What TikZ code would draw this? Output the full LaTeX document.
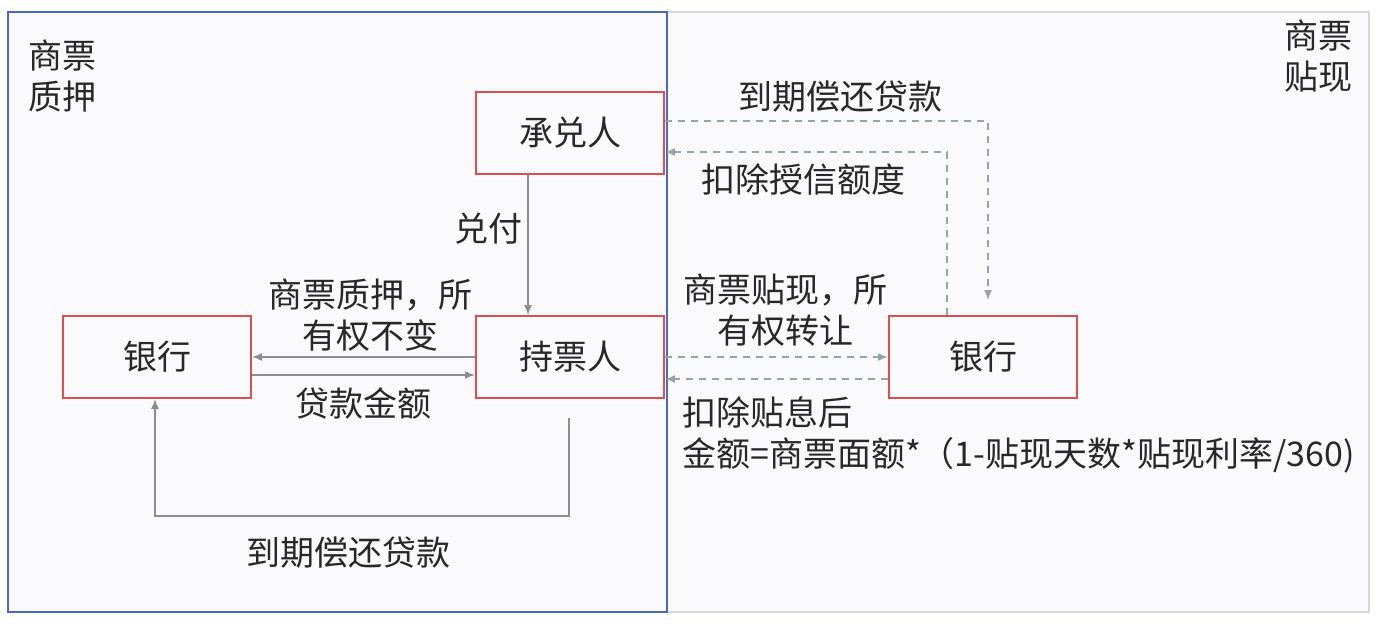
\documentclass[tikz,border=0pt]{standalone}
\usepackage{fontspec}
\setmainfont{Noto Sans CJK SC}
\usetikzlibrary{arrows.meta}
\definecolor{boxred}{RGB}{222,78,78}
\definecolor{frameblue}{RGB}{72,108,188}
\definecolor{panelgray}{RGB}{215,215,218}
\definecolor{arrgray}{RGB}{140,140,145}
\definecolor{dashgray}{RGB}{150,162,172}
\definecolor{txt}{RGB}{40,40,40}
\tikzset{
  party/.style={draw=boxred, line width=2pt, minimum width=188pt, minimum height=82pt, inner sep=0pt, text=txt, font=\fontsize{34}{40}\selectfont},
  lbl/.style={text=txt, font=\fontsize{34}{41}\selectfont, inner sep=0pt, align=center},
  solidarr/.style={draw=arrgray, line width=1.5pt, -{Latex[length=10pt,width=8pt]}},
  dasharr/.style={draw=dashgray, line width=1.5pt, dash pattern=on 7pt off 6pt, -{Latex[length=10pt,width=8pt]}},
}
\begin{document}
\begin{tikzpicture}[x=1pt,y=-1pt]
\useasboundingbox (0,0) rectangle (1386,624);
\fill[white] (0,0) rectangle (1386,624);
% panels
\draw[panelgray, line width=1.2pt, fill={rgb,255:red,250;green,250;blue,252}] (667,12) rectangle (1369,612);
\draw[frameblue, line width=2pt, fill={rgb,255:red,250;green,250;blue,252}] (8,12) rectangle (667,612);
% nodes
\node[party] (acc) at (570,132.5) {承兑人};
\node[party] (hold) at (570,357) {持票人};
\node[party] (bankL) at (157,357) {银行};
\node[party] (bankR) at (983,357) {银行};
% titles
\node[lbl, align=left] (tl) at (62,76) {商票\\质押};
\node[lbl, align=left] (tr) at (1318,56) {商票\\贴现};
% left side connectors
\draw[solidarr] (acc.south -| 528,0) -- (hold.north -| 528,0);
\node[lbl] (pay) at (488,229) {兑付};
\draw[solidarr] (hold.west |- 0,357) -- (bankL.east |- 0,357);
\draw[solidarr] (bankL.east |- 0,375) -- (hold.west |- 0,375);
\node[lbl] (pledge) at (370,315) {商票质押，所\\有权不变};
\node[lbl] (loan) at (363,403) {贷款金额};
\coordinate (rs) at (569,418);
\draw[solidarr] (rs) -- (569,516) -- (155,516) -- (bankL.south -| 155,0);
\node[lbl] (repayL) at (348,553) {到期偿还贷款};
% right side connectors
\coordinate (rbend) at (988,300);
\draw[dasharr] (acc.east |- 0,121) -- (988,121) -- (rbend);
\node[lbl] (repayR) at (840,97) {到期偿还贷款};
\draw[dasharr] (bankR.north -| 947,0) -- (947,152) -- (acc.east |- 0,152);
\node[lbl] (credit) at (803,180) {扣除授信额度};
\draw[dasharr] (hold.east |- 0,357) -- (bankR.west |- 0,357);
\draw[dasharr] (bankR.west |- 0,379) -- (hold.east |- 0,379);
\node[lbl] (disc) at (785,310) {商票贴现，所\\有权转让};
\node[lbl, align=left, anchor=north west] (amt) at (682,396) {扣除贴息后\\金额=商票面额*（1-贴现天数*贴现利率/360)};
\end{tikzpicture}
\end{document}
